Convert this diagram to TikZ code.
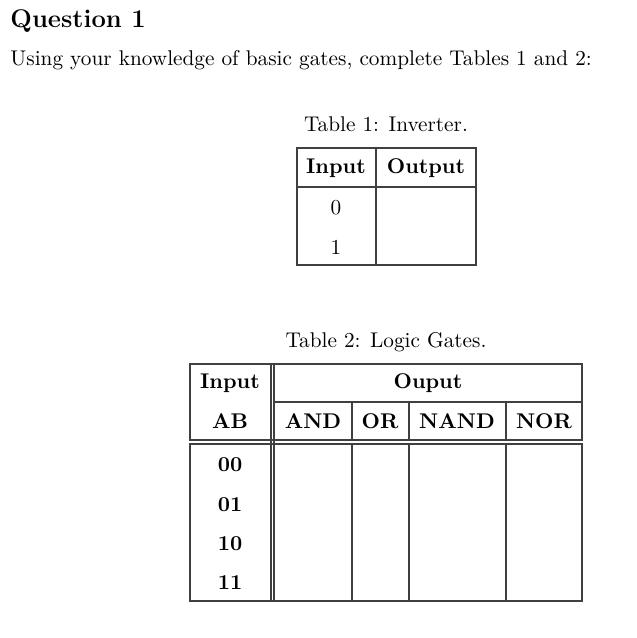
\documentclass[tikz,border=0pt]{standalone}
\begin{document}
\begin{tikzpicture}[x=0.47pt,y=-0.47pt,
  ln/.style={line width=0.6pt,black!75},
  tx/.style={inner sep=0pt,anchor=center},
  hd/.style={tx,font=\bfseries}]
\useasboundingbox (0,0) rectangle (637,638);
\node[anchor=base west,inner sep=0pt,font=\large\bfseries] (q) at (10,28) {Question 1};
\node[anchor=base west,inner sep=0pt] (s) at (10,66) {Using your knowledge of basic gates, complete Tables 1 and 2:};
% Table 1
\node[anchor=base,inner sep=0pt] (c1) at (386,132) {Table 1: Inverter.};
\draw[ln] (297,148) rectangle (476,265);
\draw[ln] (376,148) -- (376,265);
\draw[ln] (297,187) -- (476,187);
\node[hd] (i1) at (336,168) {Input};
\node[hd] (o1) at (426,168) {Output};
\node[tx] (z) at (336,208) {0};
\node[tx] (o) at (336,247) {1};
% Table 2
\node[anchor=base,inner sep=0pt] (c2) at (386,347) {Table 2: Logic Gates.};
\draw[ln] (190,364) rectangle (582,440);
\draw[ln] (190,444) rectangle (582,601);
\draw[ln] (271,364) -- (271,601);
\draw[ln] (274,364) -- (274,601);
\draw[ln] (274,402) -- (582,402);
\foreach \x in {352,409,506} {\draw[ln] (\x,402) -- (\x,440); \draw[ln] (\x,444) -- (\x,601);}
\node[hd] (in2) at (230,383) {Input};
\node[hd] (ab) at (230,421) {AB};
\node[hd] (out2) at (428,383) {Ouput};
\node[hd] (and) at (313,421) {AND};
\node[hd] (or) at (380,421) {OR};
\node[hd] (nand) at (457,421) {NAND};
\node[hd] (nor) at (544,421) {NOR};
\node[hd] (r0) at (230,465) {00};
\node[hd] (r1) at (230,505) {01};
\node[hd] (r2) at (230,544) {10};
\node[hd] (r3) at (230,583) {11};
\end{tikzpicture}
\end{document}
